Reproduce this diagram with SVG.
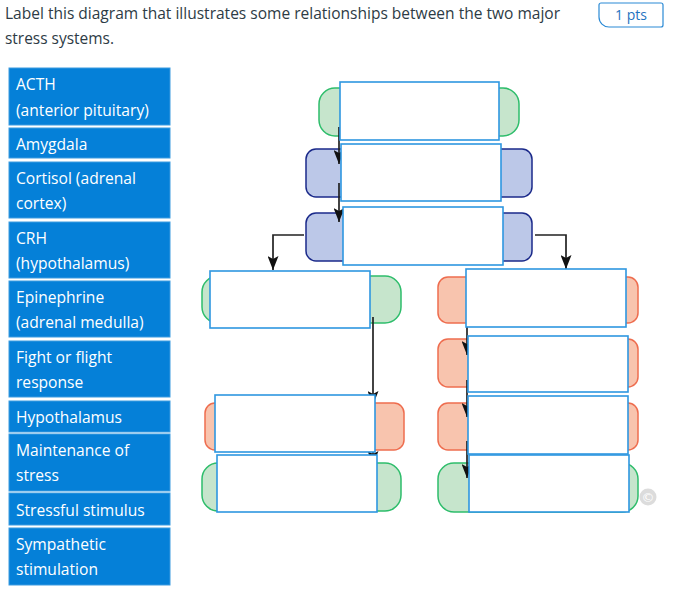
<svg xmlns="http://www.w3.org/2000/svg" width="683" height="593" viewBox="0 0 683 593">
<style>
.title{font-family:"Open Sans","Liberation Sans",sans-serif;font-size:16px;fill:#2d3b45}
.pts{font-family:"Open Sans","Liberation Sans",sans-serif;font-size:14px;fill:#1f73c0}
.lab rect{fill:#0580d8;stroke:#3d9be0;stroke-width:1}
.lab text{font-family:"Open Sans","Liberation Sans",sans-serif;font-size:15.6px;fill:#ffffff}
.green{fill:#c6e5cc;stroke:#2ebd6b;stroke-width:1.5}
.blue{fill:#bcc8e8;stroke:#1b2a8a;stroke-width:1.5}
.orange{fill:#f8c4ae;stroke:#ee6d4f;stroke-width:1.5}
.drop{fill:#ffffff;stroke:#2e97e0;stroke-width:1.6}
.conn path{fill:none;stroke:#222222;stroke-width:1.7;marker-end:url(#arr)}
</style>
<defs>
<marker id="arr" markerUnits="userSpaceOnUse" viewBox="0 0 14 11" markerWidth="14" markerHeight="11" refX="14" refY="5.5" orient="auto">
<path d="M0,0 L14,5.5 L0,11 L3,5.5 Z" fill="#111111"/>
</marker>
</defs>
<rect width="683" height="593" fill="#ffffff"/>
<text class="title" x="5" y="19" textLength="555" lengthAdjust="spacingAndGlyphs">Label this diagram that illustrates some relationships between the two major</text>
<text class="title" x="5" y="44" textLength="109" lengthAdjust="spacingAndGlyphs">stress systems.</text>
<g id="points">
<path d="M601,3 H661 a2,2 0 0 1 2,2 V25 a2,2 0 0 1 -2,2 H609 a10,10 0 0 1 -10,-10 V5 a2,2 0 0 1 2,-2 Z" fill="#ffffff" stroke="#2b8ad5" stroke-width="1.2"/>
<text class="pts" x="631" y="20" text-anchor="middle">1 pts</text>
</g>
<g id="labels" class="lab">
<g id="label-acth"><rect x="9" y="68" width="161" height="57"/><text x="16" y="90">ACTH</text><text x="16" y="116">(anterior pituitary)</text></g>
<g id="label-amygdala"><rect x="9" y="128" width="161" height="30"/><text x="16" y="150">Amygdala</text></g>
<g id="label-cortisol"><rect x="9" y="162" width="161" height="56"/><text x="16" y="184">Cortisol (adrenal</text><text x="16" y="209">cortex)</text></g>
<g id="label-crh"><rect x="9" y="222" width="161" height="56"/><text x="16" y="244">CRH</text><text x="16" y="269">(hypothalamus)</text></g>
<g id="label-epinephrine"><rect x="9" y="281" width="161" height="56"/><text x="16" y="303">Epinephrine</text><text x="16" y="328">(adrenal medulla)</text></g>
<g id="label-fight"><rect x="9" y="341" width="161" height="56"/><text x="16" y="363">Fight or flight</text><text x="16" y="388">response</text></g>
<g id="label-hypothalamus"><rect x="9" y="401" width="161" height="31"/><text x="16" y="423">Hypothalamus</text></g>
<g id="label-maintenance"><rect x="9" y="434" width="161" height="57"/><text x="16" y="456">Maintenance of</text><text x="16" y="481">stress</text></g>
<g id="label-stimulus"><rect x="9" y="493" width="161" height="32"/><text x="16" y="516">Stressful stimulus</text></g>
<g id="label-sympathetic"><rect x="9" y="528" width="161" height="57"/><text x="16" y="550">Sympathetic</text><text x="16" y="575">stimulation</text></g>
</g>
<g id="node-top"><rect class="green" x="319" y="88" width="200" height="48" rx="16"/></g>
<g id="node-blue1"><rect class="blue" x="306" y="149" width="226" height="48" rx="10"/></g>
<g id="node-blue2"><rect class="blue" x="306" y="213" width="226" height="48" rx="10"/></g>
<g id="node-left1"><rect class="green" x="202" y="276" width="199" height="47" rx="16"/></g>
<g id="node-left2"><rect class="orange" x="205" y="403" width="199" height="47" rx="10"/></g>
<g id="node-left3"><rect class="green" x="202" y="463" width="199" height="48" rx="16"/></g>
<g id="node-right1"><rect class="orange" x="438" y="277" width="200" height="46" rx="10"/></g>
<g id="node-right2"><rect class="orange" x="438" y="339" width="200" height="48" rx="10"/></g>
<g id="node-right3"><rect class="orange" x="438" y="403" width="200" height="47" rx="10"/></g>
<g id="node-right4"><rect class="green" x="438" y="463" width="200" height="49" rx="16"/></g>
<g id="connectors" class="conn">
<path d="M339,127 V164"/>
<path d="M339,183 V222"/>
<path d="M304,235 H273 V270"/>
<path d="M535,235 H566 V269"/>
<path d="M373,317 V405"/>
<path d="M373,440 V465"/>
<path d="M467,327 V355"/>
<path d="M467,380 V417"/>
<path d="M467,441 V478"/>
</g>
<g id="dropzones">
<rect id="drop-top" class="drop" x="340" y="82" width="159" height="58"/>
<rect id="drop-blue1" class="drop" x="341" y="144" width="160" height="57"/>
<rect id="drop-blue2" class="drop" x="343" y="207" width="160" height="58"/>
<rect id="drop-left1" class="drop" x="210" y="271" width="160" height="57"/>
<rect id="drop-left2" class="drop" x="215" y="395" width="160" height="57"/>
<rect id="drop-left3" class="drop" x="217" y="455" width="160" height="57"/>
<rect id="drop-right1" class="drop" x="466" y="269" width="160" height="58"/>
<rect id="drop-right2" class="drop" x="468" y="336" width="160" height="56"/>
<rect id="drop-right3" class="drop" x="468" y="396" width="160" height="58"/>
<rect id="drop-right4" class="drop" x="469" y="455" width="160" height="57"/>
</g>
<g id="copyright">
<circle cx="648" cy="497" r="8.5" fill="#dcdcdc"/>
<text x="648" y="502" text-anchor="middle" font-family="'DejaVu Sans',sans-serif" font-size="13" fill="#ffffff">©</text>
</g>
</svg>
